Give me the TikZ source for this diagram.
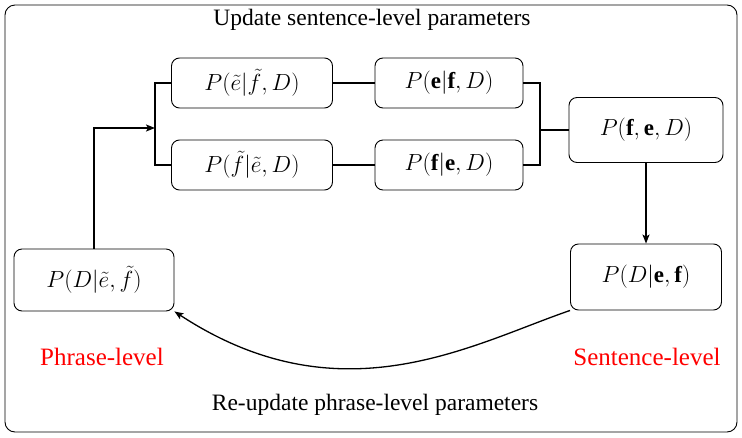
\documentclass[tikz,border=0pt]{standalone}
\usepackage{amsmath}
\usepackage{fontspec}
\setmainfont{Liberation Serif}
\usetikzlibrary{arrows.meta}
\newcommand\mth[1]{\scalebox{1.35}{$#1$}}
\begin{document}
\begin{tikzpicture}[x=1pt,y=-1pt,
  box/.style={draw,rounded corners=8pt,line width=0.9pt,inner sep=0pt,font=\fontsize{17}{20}\selectfont},
  conn/.style={line width=1.3pt},
  arr/.style={conn,-{Stealth[length=9pt,width=7pt,inset=2pt]}},
  lab/.style={font=\fontsize{23.5}{26}\selectfont},
  red/.style={font=\fontsize{25}{28}\selectfont,text=red}]
\useasboundingbox (0,0) rectangle (742,437);
\draw[line width=0.9pt,rounded corners=10pt] (5,5) rectangle (737,432);
\node[box,minimum width=161pt,minimum height=50pt] (A) at (252,83) {\mth{P(\tilde e|\tilde f,D)}};
\node[box,minimum width=148pt,minimum height=50pt] (B) at (449,83) {\mth{P(\mathbf{e}|\mathbf{f},D)}};
\node[box,minimum width=161pt,minimum height=50pt] (C) at (252,165) {\mth{P(\tilde f|\tilde e,D)}};
\node[box,minimum width=148pt,minimum height=50pt] (Dn) at (449,165) {\mth{P(\mathbf{f}|\mathbf{e},D)}};
\node[box,minimum width=154pt,minimum height=65pt] (E) at (646,130) {\mth{P(\mathbf{f},\mathbf{e},D)}};
\node[box,minimum width=151pt,minimum height=66pt] (F) at (646,277) {\mth{P(D|\mathbf{e},\mathbf{f})}};
\node[box,minimum width=160pt,minimum height=62pt] (G) at (94,280) {\mth{P(D|\tilde e,\tilde f)}};
\node[lab] (t1) at (372,20) {Update sentence-level parameters};
\node[lab] (t2) at (375,405) {Re-update phrase-level parameters};
\node[red] (t3) at (102,357) {Phrase-level};
\node[red] (t4) at (647,357) {Sentence-level};
\coordinate (L) at (155,128);
\coordinate (R) at (540,130);
\draw[conn] (A) -- (B);
\draw[conn] (C) -- (Dn);
\draw[conn] (A.west) -- (155,83) -- (155,165) -- (C.west);
\draw[conn] (B.east) -- (540,83) -- (540,165) -- (Dn.east);
\draw[conn] (R) -- (E.west);
\draw[arr] (G.north) |- (L);
\draw[arr] (E.south) -- (F.north);
\draw[arr] (F.south west) .. controls (470,345) and (340,420) .. (G.south east);
\end{tikzpicture}
\end{document}
